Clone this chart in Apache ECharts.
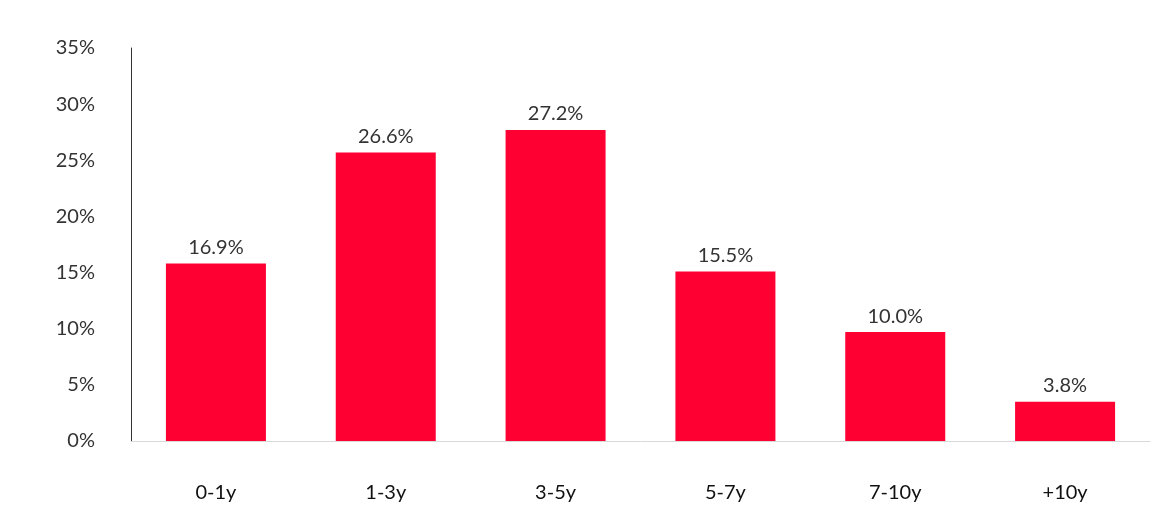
<!DOCTYPE html><html><head><meta charset="utf-8"><script src="https://cdn.jsdelivr.net/npm/echarts@6/dist/echarts.min.js"></script></head><body style="margin:0"><div id="c" style="width:1154px;height:520px"></div><script>
const categories=['0-1y','1-3y','3-5y','5-7y','7-10y','+10y'];
const values=[15.8,25.7,27.7,15.1,9.7,3.5];
const labels=['16.9%','26.6%','27.2%','15.5%','10.0%','3.8%'];
const chart=echarts.init(document.getElementById('c'));
chart.setOption({
 grid:{left:131,right:4,top:48,bottom:79},
 xAxis:{type:'category',data:categories,axisTick:{show:false},axisLine:{lineStyle:{color:'#d9d9d9',width:1}},
  axisLabel:{color:'#111',fontSize:20,fontFamily:'Lato',margin:42}},
 yAxis:{type:'value',min:0,max:35,interval:5,splitLine:{show:false},axisLine:{show:true,lineStyle:{color:'#333'}},
  axisLabel:{formatter:'{value}%',color:'#333',fontSize:20,fontFamily:'Lato',margin:36}},
 series:[{type:'bar',data:values,barWidth:100,itemStyle:{color:'#ff0033'},
  label:{show:true,position:'top',distance:6,color:'#333',fontSize:20,fontFamily:'Lato',formatter:p=>labels[p.dataIndex]}}]
});
</script></body></html>
